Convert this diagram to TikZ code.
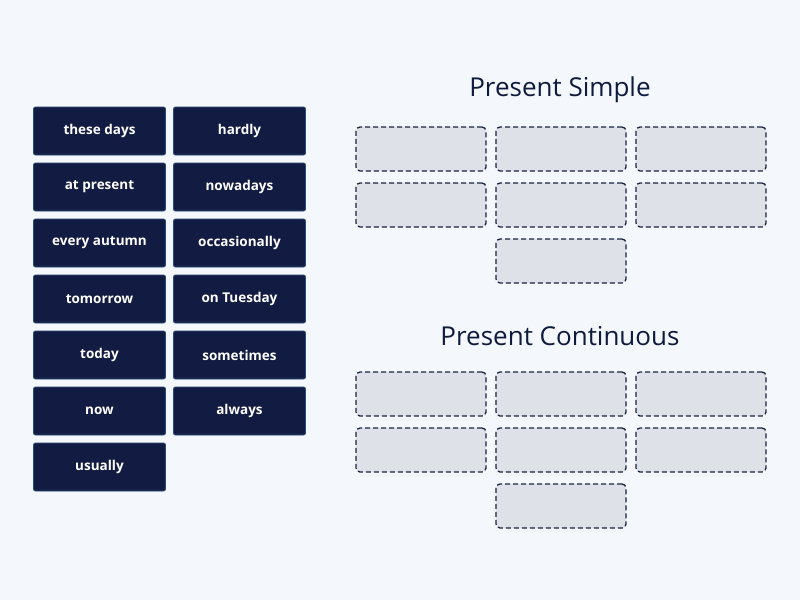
\documentclass[tikz,border=0pt]{standalone}
\usepackage{fontspec}
\setmainfont{Open Sans}
\definecolor{bg}{HTML}{F4F7FB}
\definecolor{tile}{HTML}{121B42}
\definecolor{tileb}{HTML}{2A4A7A}
\definecolor{slot}{HTML}{DEE1E8}
\definecolor{slotb}{HTML}{1A2340}
\definecolor{ttl}{HTML}{0F1B3D}
\begin{document}
\begin{tikzpicture}[x=1pt,y=-1pt,
  tilebox/.style={draw=tileb,fill=tile,rounded corners=2pt,line width=0.8pt,minimum width=132pt,minimum height=48pt,text=white,font=\fontsize{13.5}{16}\selectfont\bfseries,inner sep=0pt},
  slotbox/.style={draw=slotb,fill=slot,dashed,dash pattern=on 5pt off 3pt,line width=1.3pt,rounded corners=4pt,minimum width=130pt,minimum height=44pt,inner sep=0pt},
  ttlnode/.style={text=ttl,font=\fontsize{26}{30}\selectfont}]
\fill[bg] (0,0) rectangle (800,600);
\useasboundingbox (0,0) rectangle (800,600);
\foreach \t [count=\i] in {these days,at present,every autumn,tomorrow,today,now,usually}
  \node[tilebox] (l\i) at (99.5,{131+56*(\i-1)}) {\t};
\foreach \t [count=\i] in {hardly,nowadays,occasionally,on Tuesday,sometimes,always}
  \node[tilebox] (r\i) at (239.5,{131+56*(\i-1)}) {\t};
\node[ttlnode] (t1) at (560,90) {Present Simple};
\node[ttlnode] (t2) at (560,336) {Present Continuous};
\foreach \y/\n in {149/a,205/b} {
  \node[slotbox] (s\n1) at (421,\y) {};
  \node[slotbox] (s\n2) at (561,\y) {};
  \node[slotbox] (s\n3) at (701,\y) {};
}
\node[slotbox] (sc2) at (561,261) {};
\foreach \y/\n in {394/d,450/e} {
  \node[slotbox] (s\n1) at (421,\y) {};
  \node[slotbox] (s\n2) at (561,\y) {};
  \node[slotbox] (s\n3) at (701,\y) {};
}
\node[slotbox] (sf2) at (561,506) {};
\end{tikzpicture}
\end{document}
